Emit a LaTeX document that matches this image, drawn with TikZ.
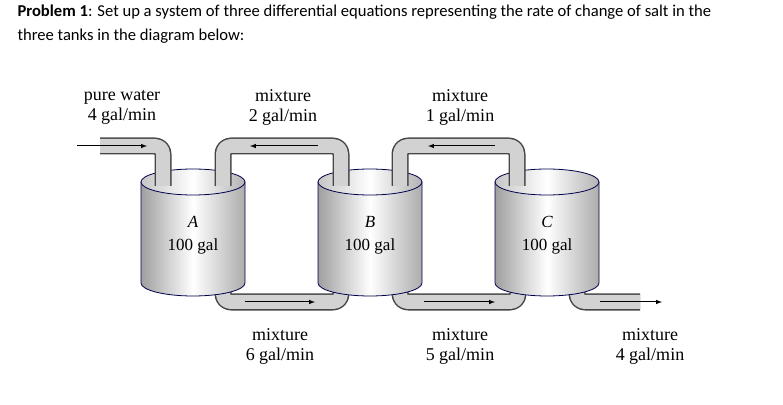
\documentclass[tikz,border=0pt]{standalone}
\usepackage{fontspec}
\setmainfont{Liberation Serif}
\newfontfamily\carlitofont{Carlito}
\begin{document}
\begin{tikzpicture}[x=1pt,y=1pt,
 pipeout/.style={line width=17pt,draw=gray!55!black,line join=round},
 pipein/.style={line width=14pt,draw=gray!35,line join=round},
 flow/.style={-latex,line width=1pt},
 lbl/.style={font=\fontsize{18}{20}\selectfont,align=center},
 tlbl/.style={font=\fontsize{17}{19}\selectfont}]
\useasboundingbox (0,0) rectangle (783,404);
\node[anchor=west,font=\carlitofont\fontsize{16.6}{18}\selectfont] (t1) at (14,392) {\textbf{Problem 1}: Set up a system of three differential equations representing the rate of change of salt in the};
\node[anchor=west,font=\carlitofont\fontsize{16.6}{18}\selectfont] (t2) at (14,368) {three tanks in the diagram below:};
% bottom pipes
\foreach \p in {{(223,121)--(223,102)--(341,102)--(341,121)},{(400,121)--(400,102)--(518,102)--(518,121)},{(577,121)--(577,102)--(640,102)}}{
 \draw[pipeout,rounded corners=8pt] \p; \draw[pipein,rounded corners=8pt] \p;}
% tanks
\foreach \c/\n in {193/A,370/B,547/C}{
 \shade[left color=gray!75,right color=gray!65,middle color=white,draw=blue!30!black,line width=0.8pt]
  (\c-52,222) -- (\c-52,121) arc[start angle=180,end angle=360,x radius=52,y radius=13] -- (\c+52,222) -- cycle;
 \shade[left color=gray!45,right color=gray!60,middle color=white,draw=blue!30!black,line width=0.8pt]
  (\c,222) ellipse[x radius=52,y radius=13];
 \node[tlbl] (n\n) at (\c,182) {\textit{\n}};
 \node[tlbl] (v\n) at (\c,158) {100 gal};
}
% top pipes
\foreach \p in {{(100,258)--(163,258)--(163,218)},{(223,218)--(223,258)--(341,258)--(341,218)},{(400,218)--(400,258)--(517,258)--(517,218)}}{
 \draw[pipeout,rounded corners=8pt] \p; \draw[pipein,rounded corners=8pt] \p;}
\coordinate (a1) at (77,258); \coordinate (a2) at (147,258);
\coordinate (b1) at (318,258); \coordinate (b2) at (250,258);
\coordinate (c1) at (495,258); \coordinate (c2) at (428,258);
\coordinate (d1) at (245,102); \coordinate (d2) at (315,102);
\coordinate (e1) at (424,102); \coordinate (e2) at (495,102);
\coordinate (f1) at (600,102); \coordinate (f2) at (662,102);
\foreach \u/\v in {a1/a2,b1/b2,c1/c2,d1/d2,e1/e2,f1/f2} \draw[flow] (\u) -- (\v);
\node[lbl] (l1) at (122,297) {pure water\\4 gal/min};
\node[lbl] (l2) at (283,297) {mixture\\2 gal/min};
\node[lbl] (l3) at (460,297) {mixture\\1 gal/min};
\node[lbl] (l4) at (280,58) {mixture\\6 gal/min};
\node[lbl] (l5) at (460,58) {mixture\\5 gal/min};
\node[lbl] (l6) at (650,58) {mixture\\4 gal/min};
\end{tikzpicture}
\end{document}
